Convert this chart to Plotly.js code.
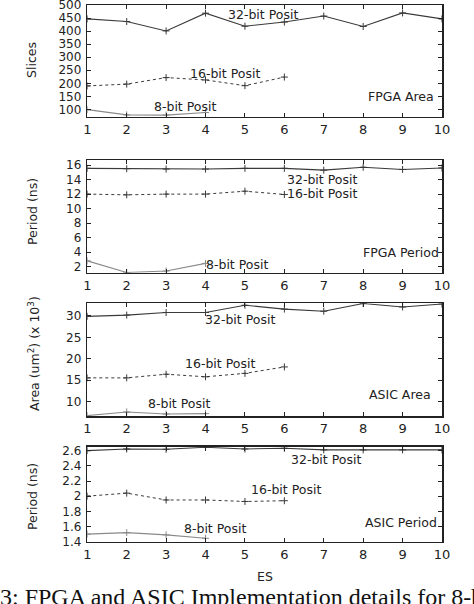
<!DOCTYPE html>
<html>
<head>
<meta charset="utf-8">
<script src="https://cdn.plot.ly/plotly-3.0.1.min.js"></script>
<style>
  html, body { margin: 0; padding: 0; background: #fff; }
  #chart { width: 474px; height: 604px; }
</style>
</head>
<body>
<div id="chart"></div>
<script>
// ES values on the x axis
var es = [1, 2, 3, 4, 5, 6, 7, 8, 9, 10];
var es16 = [1, 2, 3, 4, 5, 6];
var es8 = [1, 2, 3, 4];

// FPGA area (slices)
var fpgaArea32 = [447, 437, 401, 469, 419, 435, 458, 418, 470, 447];
var fpgaArea16 = [190, 197, 222, 213, 191, 224];
var fpgaArea8 = [99, 79, 78, 88];

// FPGA period (ns)
var fpgaPeriod32 = [15.55, 15.5, 15.45, 15.45, 15.55, 15.55, 15.3, 15.7, 15.4, 15.6];
var fpgaPeriod16 = [12.0, 11.9, 12.0, 12.0, 12.4, 11.95];
var fpgaPeriod8 = [2.8, 1.2, 1.4, 2.45];

// ASIC area (um^2 x 10^3)
var asicArea32 = [29.9, 30.2, 30.8, 30.8, 32.5, 31.6, 31.1, 32.9, 32.1, 32.8];
var asicArea16 = [15.55, 15.55, 16.4, 15.8, 16.6, 18.1];
var asicArea8 = [6.75, 7.6, 7.1, 7.2];

// ASIC period (ns)
var asicPeriod32 = [2.6, 2.622, 2.618, 2.645, 2.622, 2.631, 2.61, 2.61, 2.61, 2.61];
var asicPeriod16 = [2.0, 2.04, 1.95, 1.95, 1.93, 1.94];
var asicPeriod8 = [1.5, 1.52, 1.49, 1.445];

var W = 474, H = 604;
var FONT = "DejaVu Sans";

function series(x, y, n, style) {
    var col = style === "8" ? "#8a8a8a" : "#3a3a3a";
    return {
        x: x, y: y,
        xaxis: "x" + (n === 1 ? "" : n),
        yaxis: "y" + (n === 1 ? "" : n),
        mode: "lines+markers",
        line: {color: col, width: style === "16" ? 1 : 1.1, dash: style === "16" ? "dot" : "solid"},
        marker: {symbol: "cross-thin", size: 5, line: {color: col, width: 1}},
        hoverinfo: "skip"
    };
}

var data = [
    series(es, fpgaArea32, 1, "32"), series(es16, fpgaArea16, 1, "16"), series(es8, fpgaArea8, 1, "8"),
    series(es, fpgaPeriod32, 2, "32"), series(es16, fpgaPeriod16, 2, "16"), series(es8, fpgaPeriod8, 2, "8"),
    series(es, asicArea32, 3, "32"), series(es16, asicArea16, 3, "16"), series(es8, asicArea8, 3, "8"),
    series(es, asicPeriod32, 4, "32"), series(es16, asicPeriod16, 4, "16"), series(es8, asicPeriod8, 4, "8")
];

function xAxis(anchor) {
    return {
        domain: [87.3 / W, 442 / W], range: [1, 10], dtick: 1, anchor: anchor,
        ticks: "inside", ticklen: 4, tickcolor: "#222", tickwidth: 1,
        showline: true, linecolor: "#222", linewidth: 1.5, mirror: "ticks",
        showgrid: false, zeroline: false,
        tickfont: {family: FONT, size: 13, color: "#222"}
    };
}

function yAxis(anchor, top, bottom, range, dtick) {
    return {
        domain: [1 - bottom / H, 1 - top / H], range: range, dtick: dtick, anchor: anchor,
        ticks: "inside", ticklen: 4, tickcolor: "#222", tickwidth: 1,
        showline: true, linecolor: "#222", linewidth: 1.5, mirror: "ticks",
        showgrid: false, zeroline: false, ticklabelstandoff: 2,
        ticklabeloverflow: "allow",
        tickfont: {family: FONT, size: 12, color: "#222"}
    };
}

function label(text, px, py, anchor) {
    return {
        text: text, xref: "paper", yref: "paper", x: px / W, y: 1 - py / H,
        xanchor: anchor || "center", yanchor: "middle", showarrow: false,
        font: {family: FONT, size: 12.5, color: "#222"}
    };
}

function yTitle(text, px, py) {
    return {
        text: text, xref: "paper", yref: "paper", x: px / W, y: 1 - py / H,
        xanchor: "center", yanchor: "middle", showarrow: false, textangle: -90,
        font: {family: FONT, size: 12.5, color: "#222"}
    };
}

var layout = {
    width: W, height: H,
    margin: {l: 0, r: 0, t: 0, b: 0},
    paper_bgcolor: "#fff", plot_bgcolor: "#fff",
    showlegend: false,
    xaxis: xAxis("y"), xaxis2: xAxis("y2"), xaxis3: xAxis("y3"), xaxis4: xAxis("y4"),
    yaxis: yAxis("x", 5, 116.7, [72, 500.4], 50),
    yaxis2: yAxis("x2", 160, 272.7, [1.17, 16.7], 2),
    yaxis3: yAxis("x3", 303.3, 416, [6.65, 32.95], 5),
    yaxis4: yAxis("x4", 446.7, 541.7, [1.4, 2.652], 0.2),
    annotations: [
        label("32-bit Posit", 263, 15), label("16-bit Posit", 225, 73),
        label("8-bit Posit", 185, 107), label("FPGA Area", 436, 96, "right"),
        label("32-bit Posit", 322, 179), label("16-bit Posit", 322, 194),
        label("8-bit Posit", 237, 264), label("FPGA Period", 441, 252, "right"),
        label("32-bit Posit", 240, 319), label("16-bit Posit", 220, 363),
        label("8-bit Posit", 179, 403), label("ASIC Area", 433, 394, "right"),
        label("32-bit Posit", 326, 459), label("16-bit Posit", 286, 489),
        label("8-bit Posit", 215, 528), label("ASIC Period", 439, 522, "right"),
        yTitle("Slices", 32, 60),
        yTitle("Period (ns)", 32, 211),
        yTitle("Area (um<sup>2</sup>) (x 10<sup>3</sup>)", 34, 354),
        yTitle("Period (ns)", 32, 496),
        label("ES", 265, 576),
        {
            text: "3: FPGA and ASIC Implementation details for 8-bit, 16-bit and 32-bit Posit",
            xref: "paper", yref: "paper", x: -2 / W, y: 1 - 582 / H,
            xanchor: "left", yanchor: "top", showarrow: false,
            font: {family: "Liberation Serif", size: 24, color: "#111"}
        }
    ]
};

Plotly.newPlot("chart", data, layout, {displayModeBar: false, staticPlot: true});
</script>
</body>
</html>
